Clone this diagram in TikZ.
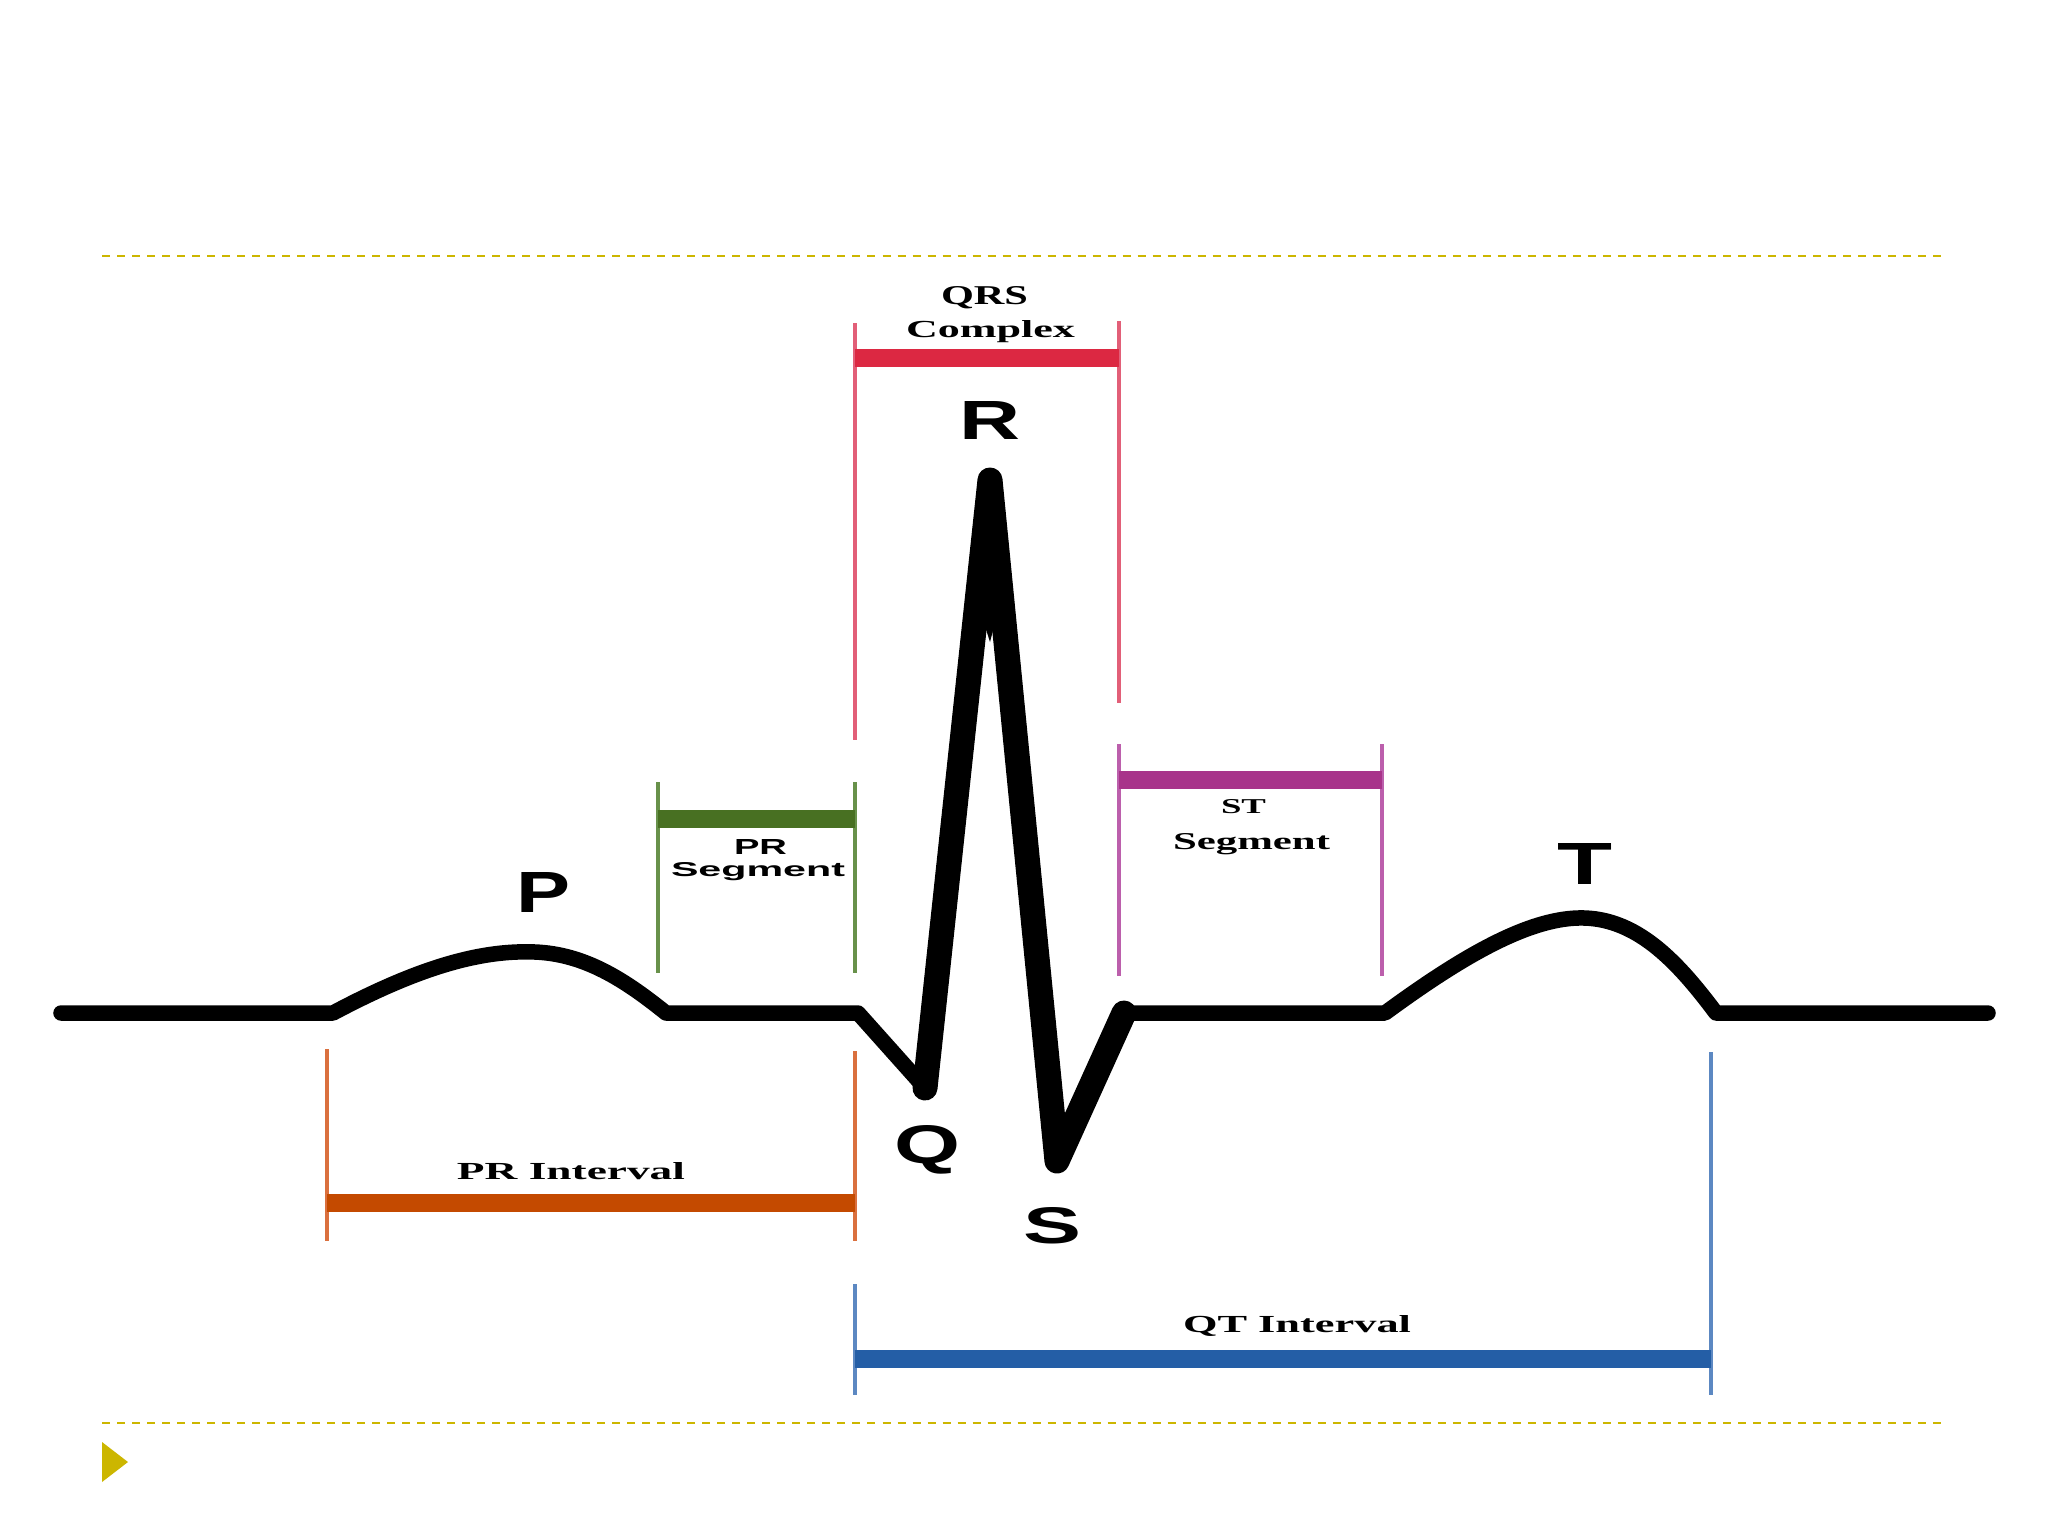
\documentclass[tikz,border=0pt]{standalone}
\usepackage{fontspec}
\setmainfont{Liberation Serif}
\setsansfont{Liberation Sans}
\usepackage{graphicx}
\newlength\pxu
\setlength\pxu{0.01cm}
\newcommand\fitlbl[3]{\resizebox{#1\pxu}{#2\pxu}{#3}}
\definecolor{qrsred}{RGB}{220,40,66}
\definecolor{qrsline}{RGB}{226,95,120}
\definecolor{prgreen}{RGB}{72,112,34}
\definecolor{prgline}{RGB}{104,145,74}
\definecolor{stmag}{RGB}{168,52,138}
\definecolor{stline}{RGB}{188,95,172}
\definecolor{prorange}{RGB}{196,74,0}
\definecolor{proline}{RGB}{218,112,62}
\definecolor{qtblue}{RGB}{36,94,166}
\definecolor{qtline}{RGB}{92,136,194}
\definecolor{olivey}{RGB}{204,182,0}
\tikzset{
  lbl/.style={inner sep=0pt, anchor=base},
  trace/.style={line width=0.155cm, line cap=round, line join=round, black},
  spike/.style={line width=0.25cm, line join=round, line cap=round, black},
  tick/.style={line width=0.04cm},
  bar/.style={line width=0.175cm, line cap=butt},
  rule/.style={olivey, line width=0.022cm, dash pattern=on 0.08cm off 0.07cm}
}
\begin{document}
\begin{tikzpicture}[x=0.01cm, y=-0.01cm]
\useasboundingbox (0,0) rectangle (2048,1536);
\fill[white] (0,0) rectangle (2048,1536);

% slide decorations
\coordinate (rtl) at (102,256);
\coordinate (rtr) at (1946,256);
\coordinate (rbl) at (102,1423);
\coordinate (rbr) at (1946,1423);
\draw[rule] (rtl) -- (rtr);
\draw[rule] (rbl) -- (rbr);
\fill[olivey] (102,1442) -- (128,1462) -- (102,1482) -- cycle;

% QRS complex bracket
\coordinate (qa) at (855,323);
\coordinate (qb) at (855,740);
\coordinate (qc) at (1119,321);
\coordinate (qd) at (1119,703);
\draw[tick, qrsline] (qa) -- (qb);
\draw[tick, qrsline] (qc) -- (qd);
\draw[bar, qrsred] (855,358) -- (1119,358);

% PR segment bracket
\draw[tick, prgline] (658,782) -- (658,973);
\draw[tick, prgline] (855,782) -- (855,973);
\draw[bar, prgreen] (658,819) -- (855,819);

% ST segment bracket
\draw[tick, stline] (1119,744) -- (1119,976);
\draw[tick, stline] (1382,744) -- (1382,976);
\draw[bar, stmag] (1119,780) -- (1382,780);

% PR interval bracket
\draw[tick, proline] (327,1049) -- (327,1241);
\draw[tick, proline] (855,1051) -- (855,1241);
\draw[bar, prorange] (327,1203) -- (855,1203);

% QT interval bracket
\draw[tick, qtline] (855,1284) -- (855,1395);
\draw[tick, qtline] (1711,1052) -- (1711,1395);
\draw[bar, qtblue] (855,1359) -- (1711,1359);

% ECG trace
\coordinate (pstart) at (333,1013);
\coordinate (ppeak) at (535,952);
\coordinate (pend) at (666,1013);
\coordinate (qstart) at (858,1013);
\coordinate (qpt) at (925,1088);
\coordinate (rpt) at (990,480);
\coordinate (spt) at (1057,1161);
\coordinate (jpt) at (1124,1013);
\coordinate (tstart) at (1385,1013);
\coordinate (tpeak) at (1585,918);
\coordinate (tend) at (1716,1013);
\draw[trace] (61,1013) -- (pstart)
  .. controls (425,964) and (485,950) .. (ppeak)
  .. controls (585,954) and (625,980) .. (pend)
  -- (qstart) -- (qpt) -- (rpt) -- (spt) -- (jpt) -- (tstart)
  .. controls (1460,958) and (1530,916) .. (tpeak)
  .. controls (1640,920) and (1680,965) .. (tend)
  -- (1988,1013);
\draw[spike] (qpt) -- (rpt) -- (spt) -- (jpt);
\fill[black] (989.5,585) -- (984.6,625) -- (990,642) -- (994.4,625) -- cycle;

% wave letters
\node[lbl] (lP) at (543.5,912) {\fitlbl{54}{40}{\sffamily\bfseries P}};
\node[lbl] (lQ) at (927,1163) {\fitlbl{66}{38}{\sffamily\bfseries Q}};
\node[lbl] (lR) at (989.5,439) {\fitlbl{61}{38}{\sffamily\bfseries R}};
\node[lbl] (lS) at (1052,1243) {\fitlbl{58}{36}{\sffamily\bfseries S}};
\node[lbl] (lT) at (1584.5,884) {\fitlbl{55}{41}{\sffamily\bfseries T}};

% bracket labels
\node[lbl] (lQRS) at (984.5,304) {\fitlbl{87}{18}{\bfseries QRS}};
\node[lbl] (lCx) at (990.5,337) {\fitlbl{169}{17}{\bfseries Complex}};
\node[lbl] (lPR) at (760.5,854) {\fitlbl{53}{15}{\sffamily\bfseries PR}};
\node[lbl] (lPRs) at (758,876) {\fitlbl{174}{14}{\sffamily\bfseries Segment}};
\node[lbl] (lST) at (1243.5,813) {\fitlbl{45}{14}{\bfseries ST}};
\node[lbl] (lSTs) at (1251.5,849) {\fitlbl{157}{16}{\bfseries Segment}};
\node[lbl] (lPRI) at (571,1179) {\fitlbl{228}{17}{\bfseries PR Interval}};
\node[lbl] (lQTI) at (1297,1332) {\fitlbl{228}{17}{\bfseries QT Interval}};
\end{tikzpicture}
\end{document}
